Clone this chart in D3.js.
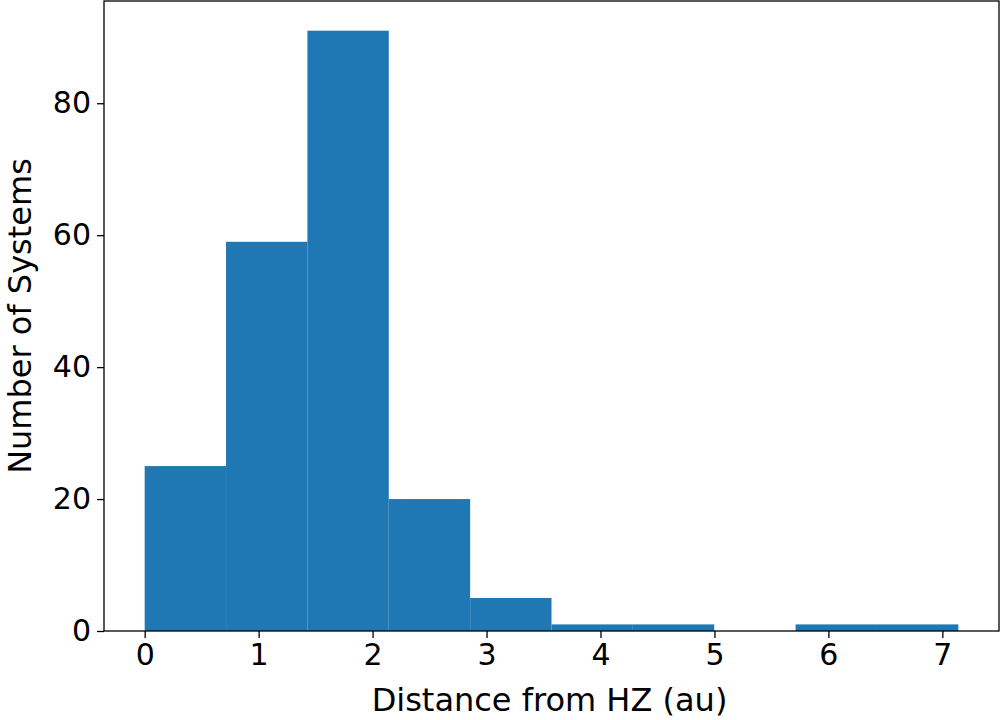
<!DOCTYPE html>
<html><head><meta charset="utf-8">
<script src="https://cdn.jsdelivr.net/npm/d3@7"></script>
<style>body{margin:0;background:#fff}svg{display:block}text{font-family:"DejaVu Sans",sans-serif}</style>
</head><body>
<svg id="c" width="1001" height="720"></svg>
<script>
const binEdges = [0,0.714,1.428,2.142,2.856,3.57,4.284,4.998,5.712,6.426,7.14];
const counts = [25,59,91,20,5,1,1,0,1,1];
const xTicks = [0,1,2,3,4,5,6,7];
const yTicks = [0,20,40,60,80];
const xLabel = "Distance from HZ (au)";
const yLabel = "Number of Systems";

const svg = d3.select("#c");
const L=104,R=999,T=1,B=631;
const x = d3.scaleLinear().domain([-0.357,7.497]).range([L,R]);
const y = d3.scaleLinear().domain([0,95.5]).range([B,T]);
const bins = counts.map((c,i)=>({x0:binEdges[i],x1:binEdges[i+1],c}));
svg.selectAll("rect.bar").data(bins.filter(d=>d.c>0)).enter().append("rect")
  .attr("x",d=>x(d.x0)).attr("width",d=>x(d.x1)-x(d.x0))
  .attr("y",d=>y(d.c)).attr("height",d=>y(0)-y(d.c)).attr("fill","#1f77b4");
svg.append("rect").attr("x",L).attr("y",T).attr("width",R-L).attr("height",B-T)
  .attr("fill","none").attr("stroke","#000").attr("stroke-width",1.3);
const xa = svg.append("g").attr("transform",`translate(0,${B})`)
  .call(d3.axisBottom(x).tickValues(xTicks).tickSize(7).tickPadding(6).tickFormat(d3.format("d")));
const ya = svg.append("g").attr("transform",`translate(${L},0)`)
  .call(d3.axisLeft(y).tickValues(yTicks).tickSize(7).tickPadding(6).tickFormat(d3.format("d")));
[xa,ya].forEach(a=>{a.select(".domain").remove();a.selectAll("text").attr("font-size",30).attr("fill","#000").style("font-family","DejaVu Sans");a.selectAll("line").attr("stroke","#000").attr("stroke-width",1.3);});
svg.append("text").attr("x",(L+R)/2-2).attr("y",711).attr("text-anchor","middle").attr("font-size",32).text(xLabel);
svg.append("text").attr("transform",`translate(31,${(T+B)/2})rotate(-90)`).attr("text-anchor","middle").attr("font-size",32).text(yLabel);
</script></body></html>
